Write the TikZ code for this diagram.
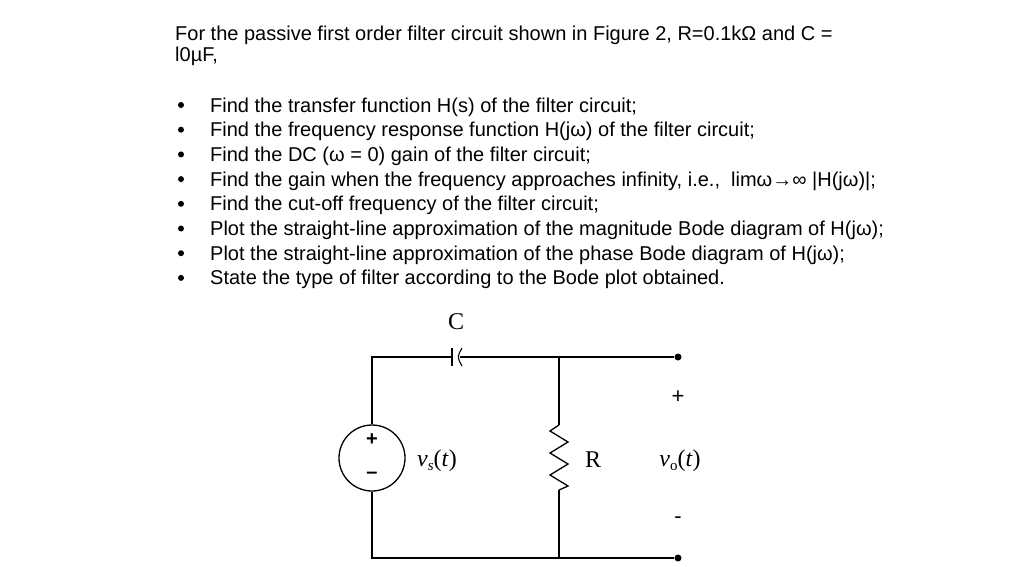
\documentclass[tikz,border=0pt]{standalone}
\usepackage{fontspec}
\setmainfont{Liberation Sans}
\newfontfamily\serf{Liberation Serif}
\begin{document}
\begin{tikzpicture}[x=1pt,y=-1pt,
  txt/.style={anchor=base west,inner sep=0pt,font=\fontsize{20}{22}\selectfont},
  bul/.style={circle,fill=black,inner sep=0pt,minimum size=6pt},
  lab/.style={inner sep=0pt,font=\serf\fontsize{24}{26}\selectfont},
  wire/.style={line width=1.6pt},
  term/.style={circle,fill=black,inner sep=0pt,minimum size=7pt}]
\useasboundingbox (0,0) rectangle (1024,566);
\node[txt] (t1) at (175,40) {For the passive first order filter circuit shown in Figure 2, R=0.1kΩ and C =};
\node[txt] (t2) at (175,61) {l0µF,};
\foreach \i/\s in {0/{Find the transfer function H(s) of the filter circuit;},
 1/{Find the frequency response function H(jω) of the filter circuit;},
 2/{Find the DC (ω = 0) gain of the filter circuit;},
 3/{Find the gain when the frequency approaches infinity, i.e.,\ \ limω→∞ |H(jω)|;},
 4/{Find the cut-off frequency of the filter circuit;},
 5/{Plot the straight-line approximation of the magnitude Bode diagram of H(jω);},
 6/{Plot the straight-line approximation of the phase Bode diagram of H(jω);},
 7/{State the type of filter according to the Bode plot obtained.}}{
  \node[bul] (b\i) at (181,105+24.7*\i) {};
  \node[txt] (l\i) at (210,112+24.7*\i) {\s};
}
% circuit
\coordinate (tl) at (372,357);
\coordinate (bl) at (372,558);
\coordinate (rt) at (559,357);
\coordinate (rb) at (559,558);
\node[term] (ot) at (678,357) {};
\node[term] (ob) at (678,558) {};
\node[draw,circle,line width=1.3pt,minimum size=66pt,inner sep=0pt] (src) at (372,458) {};
\node[font=\bfseries\fontsize{20}{20}\selectfont] at (372,440) {+};
\node[font=\bfseries\fontsize{20}{20}\selectfont] at (372,475) {--};
\coordinate (c1) at (452,357);
\coordinate (c2) at (460,357);
\draw[wire] (src.north) -- (tl) -- (c1);
\draw[wire] (c2) -- (ot);
\draw[line width=1.1pt] (452,348) -- (452,366);
\draw[line width=1.1pt] (462,348) .. controls (457,357) .. (462,366);
\draw[wire] (src.south) -- (bl) -- (ob);
\draw[wire] (rt) -- (559,425);
\draw[wire] (559,490) -- (rb);
\draw[line width=1.3pt] (559,425) -- (550,431) -- (568,442) -- (550,453) -- (568,464) -- (550,475) -- (568,486) -- (559,490);
\node[lab] (C) at (456,322) {C};
\node[lab] (R) at (593,460) {R};
\node[lab] (vs) at (437,461) {\textit{v}\raisebox{-4pt}{\textit{\fontsize{15}{15}\selectfont s}}(\textit{t})};
\node[lab] (vo) at (680,461) {\textit{v}\raisebox{-4pt}{\fontsize{15}{15}\selectfont o}(\textit{t})};
\node[font=\fontsize{22}{22}\selectfont] at (678,397) {+};
\node[font=\fontsize{22}{22}\selectfont] at (678,520) {-};
\end{tikzpicture}
\end{document}
